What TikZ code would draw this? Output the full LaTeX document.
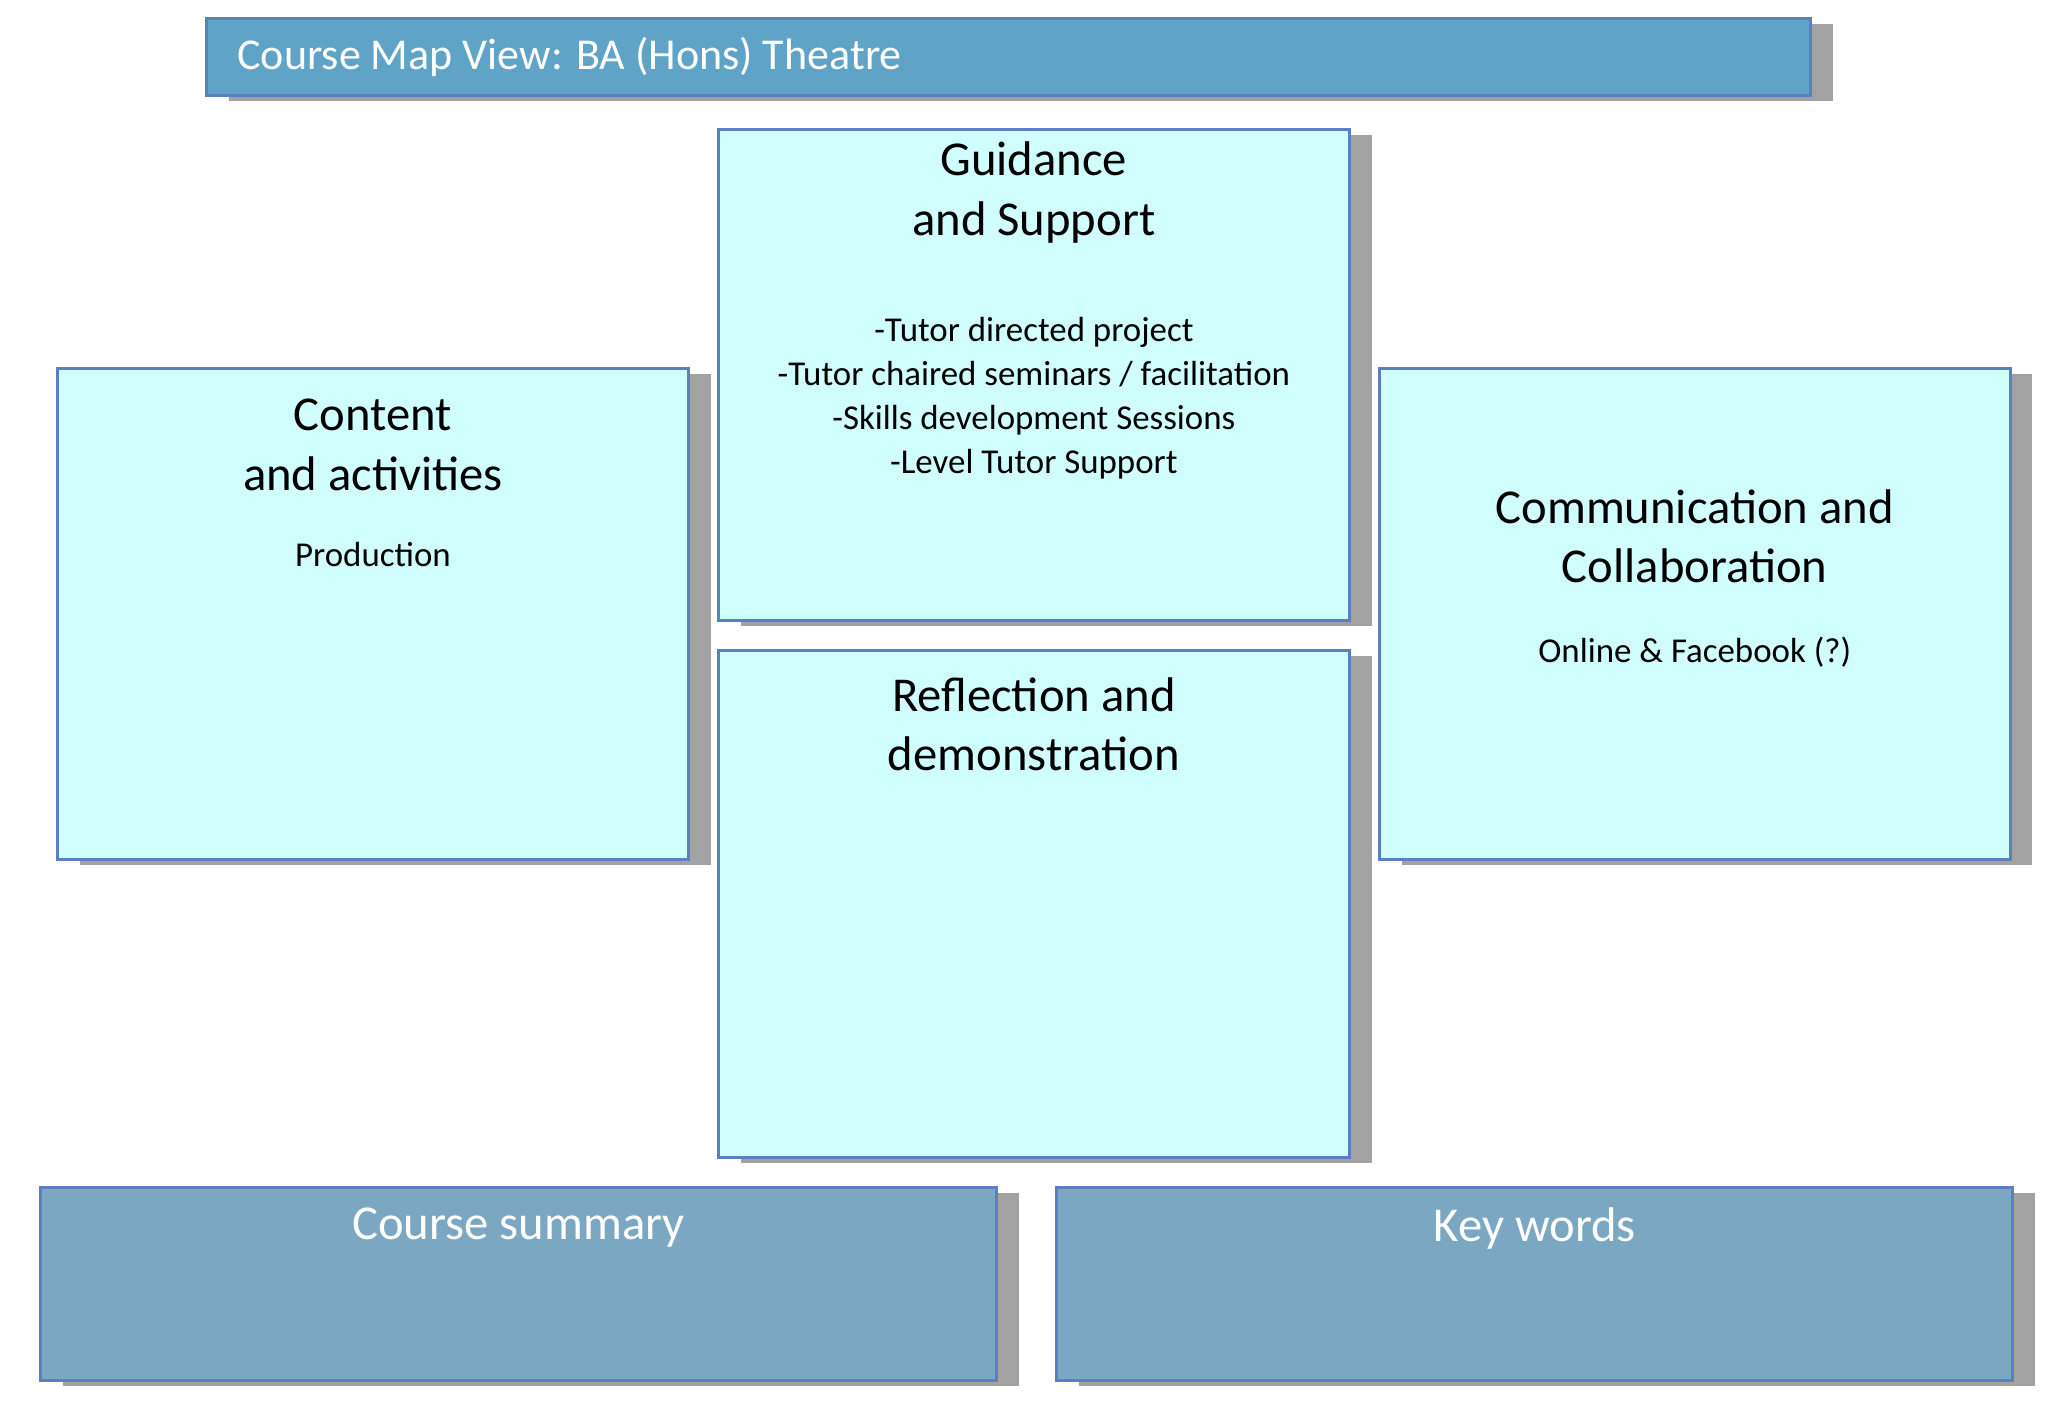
\documentclass[tikz,border=0pt]{standalone}
\usepackage{fontspec}
\setmainfont{Carlito}
\usetikzlibrary{positioning,shadows}
\definecolor{cardfill}{HTML}{D0FEFC}
\definecolor{cardline}{HTML}{5B7FC0}
\definecolor{titlefill}{HTML}{5FA3C6}
\definecolor{basefill}{HTML}{7BA7C3}
\definecolor{shadowgray}{HTML}{A2A2A2}

\begin{document}
\begin{tikzpicture}[
	box/.style = {draw=cardline, line width=0.6pt, anchor=north west, inner sep=0pt,
		drop shadow={shadow xshift=0.17cm, shadow yshift=-0.04cm, fill=shadowgray, opacity=1}},
	card/.style = {box, fill=cardfill, minimum width=4.83cm},
	base/.style = {box, fill=basefill, minimum width=7.32cm, minimum height=1.48cm},
	head/.style = {align=center, font=\fontsize{10.6}{13}\selectfont, inner sep=0pt},
	item/.style = {align=center, font=\fontsize{7.6}{9.6}\selectfont, inner sep=0pt},
	white/.style = {head, text=white}]
	\useasboundingbox (0,0) rectangle (15.68,-10.86);

	%% Boxes
	\node[box, fill=titlefill, minimum width=12.28cm, minimum height=0.59cm] (title) at (1.57,-0.13) {};
	\node[card, minimum height=3.76cm] (guide) at (5.49,-0.98) {};
	\node[card, minimum height=3.76cm] (content) at (0.43,-2.81) {};
	\node[card, minimum height=3.76cm] (comm) at (10.55,-2.81) {};
	\node[card, minimum height=3.88cm] (reflect) at (5.49,-4.97) {};
	\node[base] (summary) at (0.30,-9.08) {};
	\node[base] (keys) at (8.08,-9.08) {};

	%% Texts
	\node[white, anchor=west, font=\fontsize{9.6}{11}\selectfont] (titleText) at ([xshift=0.24cm]title.west) {Course Map View: BA (Hons) Theatre};
	\node[head, below=0.1cm of guide.north] (guideHead) {Guidance\\and Support};
	\node[item, below=0.55cm of guideHead] (guideItems) {-Tutor directed project\\-Tutor chaired seminars / facilitation\\-Skills development Sessions\\-Level Tutor Support};
	\node[head, below=0.24cm of content.north] (contentHead) {Content\\and activities};
	\node[item, below=0.38cm of contentHead] (contentItems) {Production};
	\node[head, below=0.93cm of comm.north] (commHead) {Communication and\\Collaboration};
	\node[item, below=0.4cm of commHead] (commItems) {Online \& Facebook (?)};
	\node[head, below=0.21cm of reflect.north] (reflectHead) {Reflection and\\demonstration};
	\node[white, below=0.16cm of summary.north] (summaryHead) {Course summary};
	\node[white, below=0.16cm of keys.north] (keysHead) {Key words};
\end{tikzpicture}
\end{document}
